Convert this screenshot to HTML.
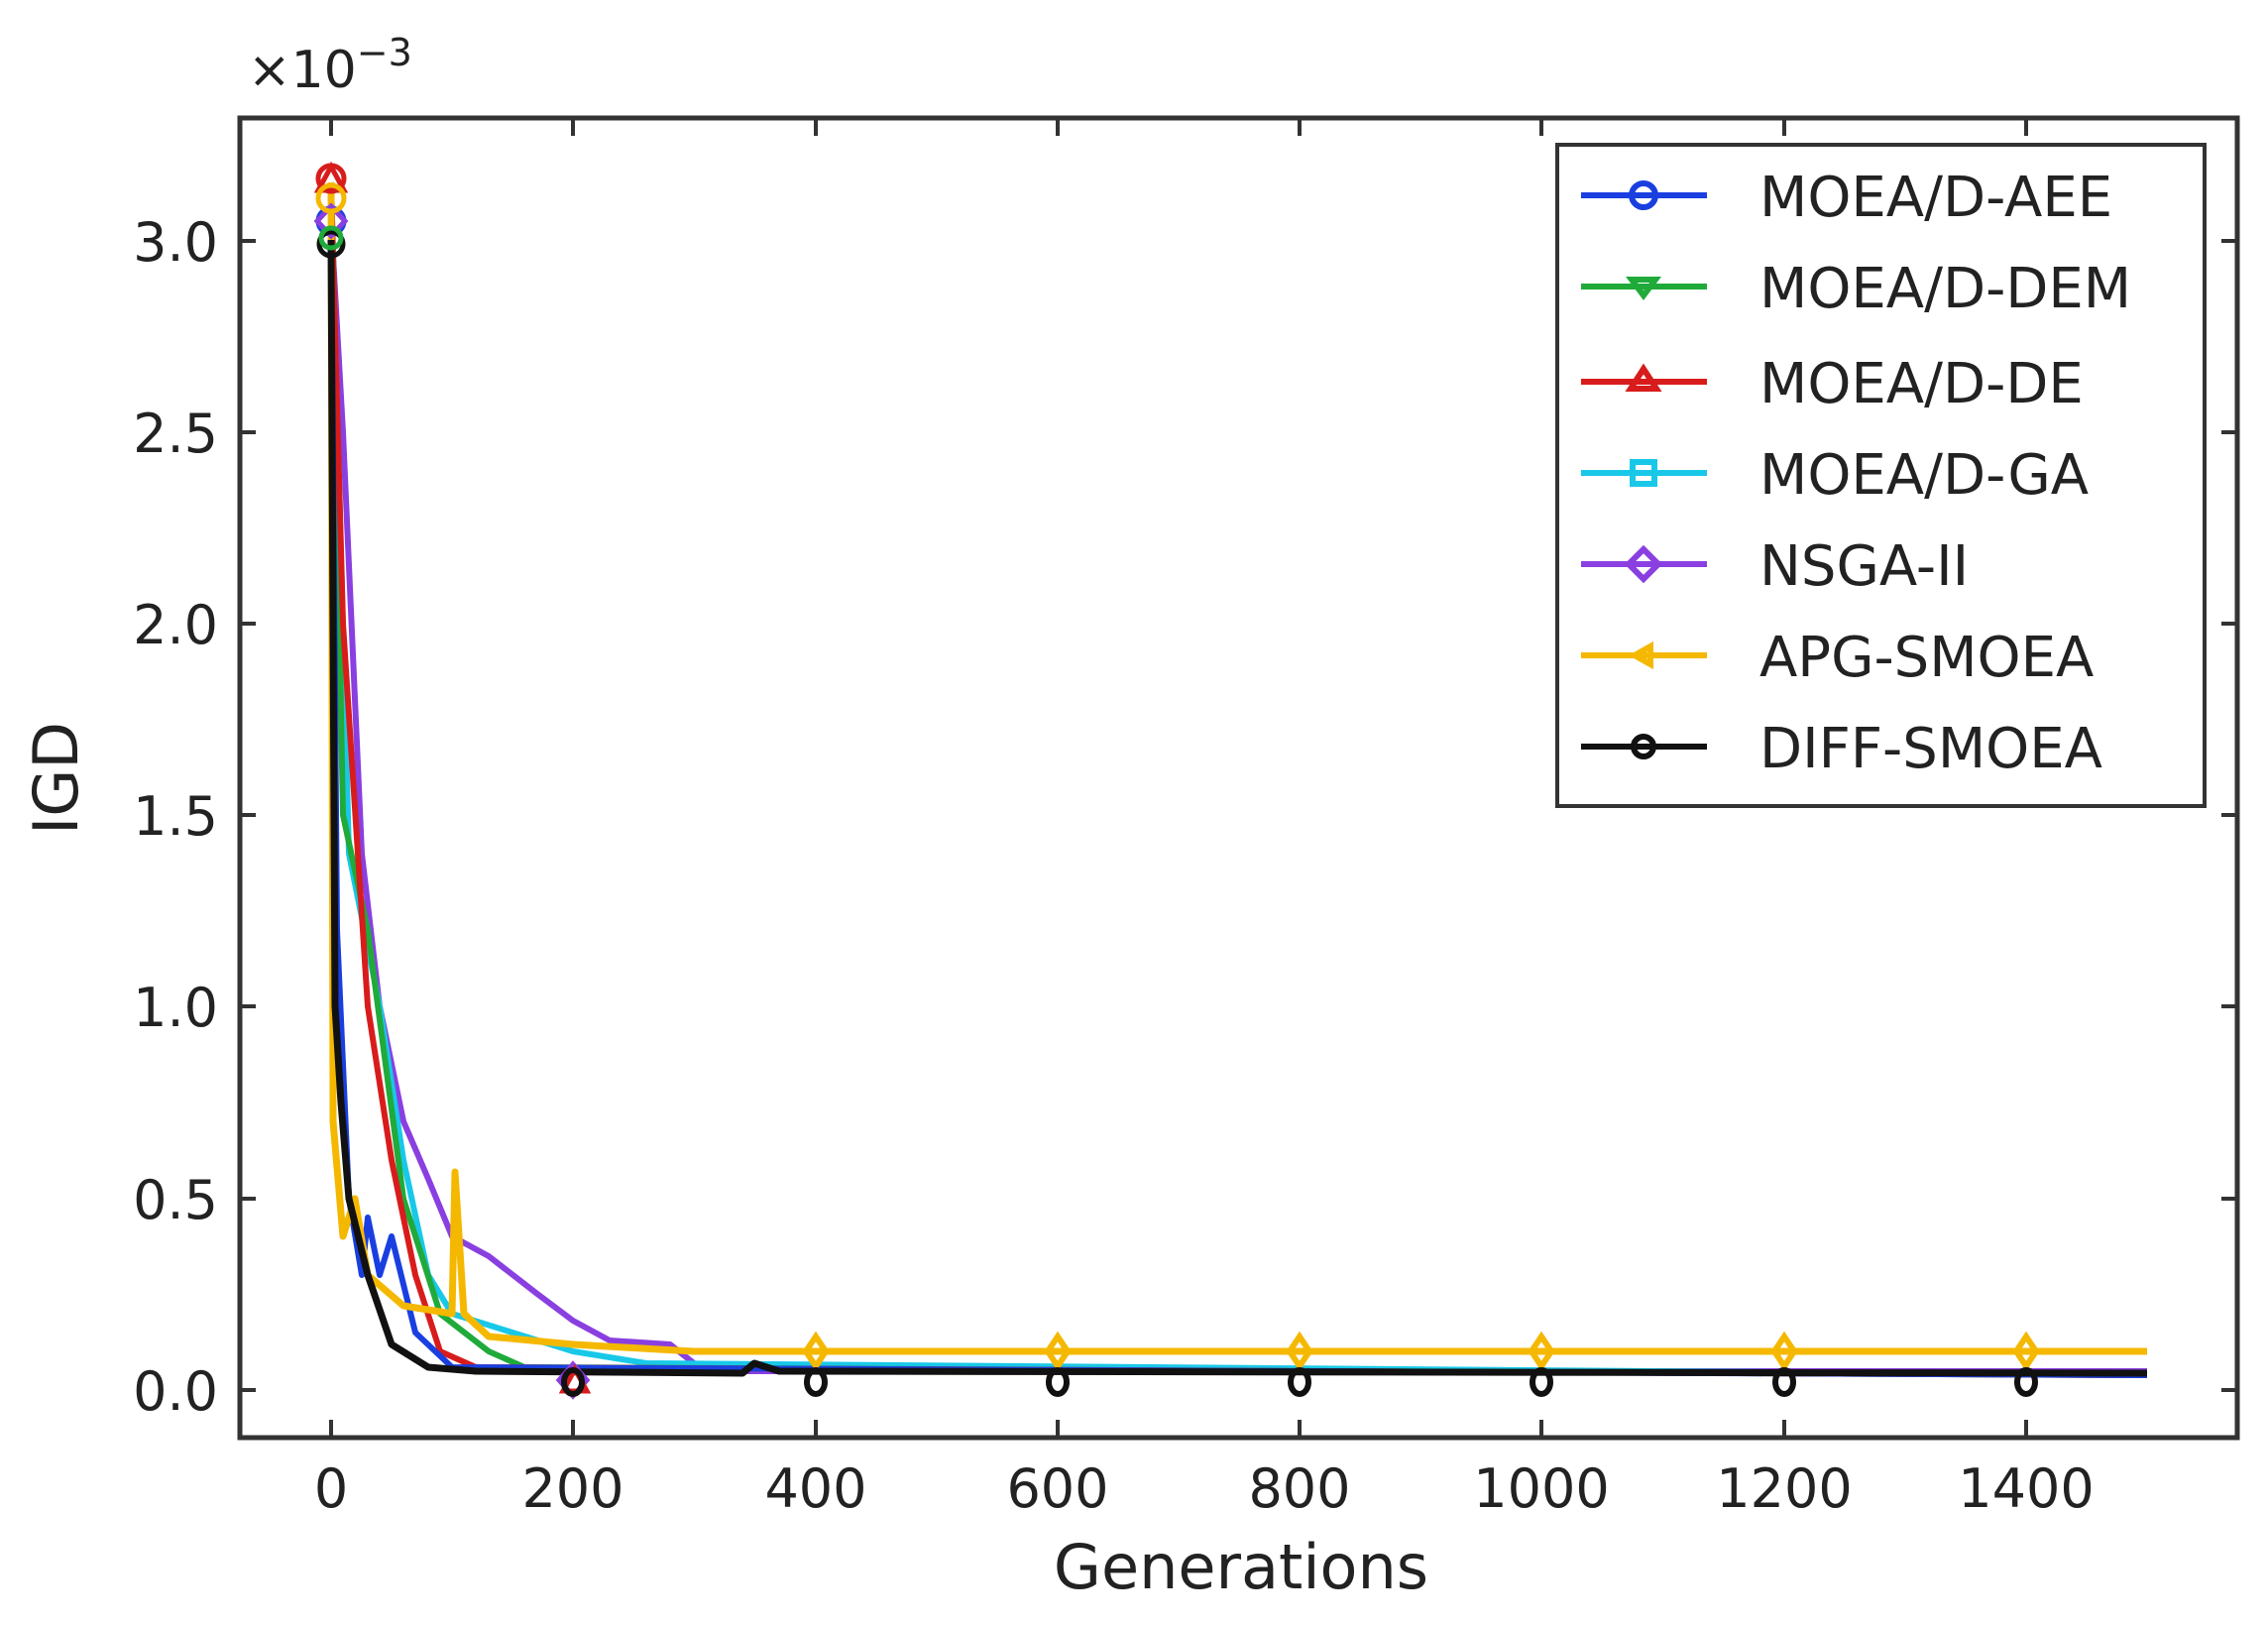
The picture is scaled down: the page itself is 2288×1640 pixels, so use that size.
<!DOCTYPE html>
<html><head><meta charset="utf-8"><style>
html,body{margin:0;padding:0;background:#fff;}
svg{display:block;font-family:"DejaVu Sans","Liberation Sans",sans-serif;}
</style></head><body>
<svg width="2288" height="1640" viewBox="0 0 2288 1640" xmlns="http://www.w3.org/2000/svg">
<rect width="2288" height="1640" fill="#fff"/>
<g fill="none" stroke-width="6" stroke-linejoin="round">
<polyline stroke="#8a3fe0" points="334,223 346,436 365,861 383,1015 407,1131 432,1189 456,1247 493,1267 542,1305 578,1332 615,1352 676,1356 700,1375 725,1383 2166,1383"/>
<polyline stroke="#19c8e8" points="334,184 352,861 383,1015 407,1170 432,1286 456,1325 517,1344 578,1363 652,1375 2166,1387"/>
<polyline stroke="#1faa3a" points="334,204 346,822 371,938 407,1209 444,1325 493,1363 529,1379 2166,1387"/>
<polyline stroke="#d81c1c" points="334,184 346,629 371,1015 395,1170 419,1286 444,1363 480,1379 2166,1387"/>
<polyline stroke="#1a3fe0" points="334,223 340,938 352,1209 365,1286 371,1228 383,1286 395,1247 419,1344 456,1379 2166,1387"/>
<polyline stroke="#f5b800" stroke-width="7" points="334,184 336,1131 346,1247 358,1209 371,1286 407,1317 456,1325 459,1182 468,1325 493,1348 578,1356 700,1363 2166,1363"/>
<polyline stroke="#111" stroke-width="7" points="334,242 338,1015 344,1112 352,1209 371,1286 395,1356 432,1379 480,1383 749,1385 761,1375 786,1383 2166,1385"/>
</g>
<g stroke-width="5" fill="none">
<circle cx="334" cy="223" r="13" stroke="#1a3fe0"/>
<path d="M334,208 L348,223 L334,238 L320,223Z" stroke="#8a3fe0"/>
<path d="M578,1376 L592,1392 L578,1408 L564,1392Z" stroke="#8a3fe0"/>
<path d="M334,168 L347,192 L321,192Z" stroke="#d81c1c"/>
<path d="M580,1381 L592,1403 L568,1403Z" stroke="#d81c1c"/>
<circle cx="334" cy="180" r="13" stroke="#d81c1c"/>
<circle cx="334" cy="200" r="13" stroke="#f5b800"/>
<circle cx="334" cy="246" r="12" stroke="#111"/>
<circle cx="334" cy="240" r="10" stroke="#1faa3a"/>
</g>
<g stroke-width="6" fill="none">
<g stroke="#f5b800">
<path d="M823,1348 L833,1363 L823,1378 L813,1363Z"/><path d="M1067,1348 L1077,1363 L1067,1378 L1057,1363Z"/><path d="M1311,1348 L1321,1363 L1311,1378 L1301,1363Z"/><path d="M1555,1348 L1565,1363 L1555,1378 L1545,1363Z"/><path d="M1800,1348 L1810,1363 L1800,1378 L1790,1363Z"/><path d="M2044,1348 L2054,1363 L2044,1378 L2034,1363Z"/>
</g>
<g stroke="#111">
<ellipse cx="578" cy="1394" rx="9" ry="12"/><ellipse cx="823" cy="1394" rx="9" ry="12"/><ellipse cx="1067" cy="1394" rx="9" ry="12"/><ellipse cx="1311" cy="1394" rx="9" ry="12"/><ellipse cx="1555" cy="1394" rx="9" ry="12"/><ellipse cx="1800" cy="1394" rx="9" ry="12"/><ellipse cx="2044" cy="1394" rx="9" ry="12"/>
</g>
</g>
<rect x="242" y="119" width="2015" height="1331" fill="none" stroke="#333" stroke-width="5"/>
<g stroke="#333" stroke-width="4">
<path d="M334,1450v-18M578,1450v-18M823,1450v-18M1067,1450v-18M1311,1450v-18M1555,1450v-18M1800,1450v-18M2044,1450v-18"/>
<path d="M334,119v18M578,119v18M823,119v18M1067,119v18M1311,119v18M1555,119v18M1800,119v18M2044,119v18"/>
<path d="M242,1402h16M242,1209h16M242,1015h16M242,822h16M242,629h16M242,436h16M242,243h16"/>
<path d="M2257,1402h-16M2257,1209h-16M2257,1015h-16M2257,822h-16M2257,629h-16M2257,436h-16M2257,243h-16"/>
</g>
<g font-size="54" fill="#222" text-anchor="end">
<text x="220" y="1422">0.0</text><text x="220" y="1229">0.5</text><text x="220" y="1035">1.0</text><text x="220" y="842">1.5</text><text x="220" y="649">2.0</text><text x="220" y="456">2.5</text><text x="220" y="263">3.0</text>
</g>
<g font-size="54" fill="#222" text-anchor="middle">
<text x="334" y="1520">0</text><text x="578" y="1520">200</text><text x="823" y="1520">400</text><text x="1067" y="1520">600</text><text x="1311" y="1520">800</text><text x="1555" y="1520">1000</text><text x="1800" y="1520">1200</text><text x="2044" y="1520">1400</text>
</g>
<text x="1252" y="1602" font-size="62" fill="#222" text-anchor="middle">Generations</text>
<text transform="translate(78,785) rotate(-90)" font-size="62" fill="#222" text-anchor="middle">IGD</text>
<text x="250" y="88" font-size="52" fill="#222">×10<tspan font-size="38" dy="-22">−3</tspan></text>
<rect x="1571" y="146" width="653" height="667" fill="#fff" stroke="#333" stroke-width="4"/>
<g stroke-width="6" fill="none">
<path d="M1595,197h127" stroke="#1a3fe0"/><circle cx="1658" cy="197" r="12" stroke="#1a3fe0"/>
<path d="M1595,289h127" stroke="#1faa3a"/><path d="M1646,282h24l-12,16z" stroke="#1faa3a"/>
<path d="M1595,385h127" stroke="#d81c1c"/><path d="M1658,372l13,20h-26z" stroke="#d81c1c"/>
<path d="M1595,477h127" stroke="#19c8e8"/><rect x="1647" y="466" width="22" height="22" stroke="#19c8e8"/>
<path d="M1595,569h127" stroke="#8a3fe0"/><path d="M1658,554l15,15l-15,15l-15,-15z" stroke="#8a3fe0"/>
<path d="M1595,661h127" stroke="#f5b800"/><path d="M1649,661l16,-9v18z" stroke="#f5b800"/>
<path d="M1595,753h127" stroke="#111"/><circle cx="1658" cy="753" r="10" stroke="#111"/>
</g>
<g font-size="56" fill="#222">
<text x="1775" y="218">MOEA/D-AEE</text>
<text x="1775" y="310">MOEA/D-DEM</text>
<text x="1775" y="406">MOEA/D-DE</text>
<text x="1775" y="498">MOEA/D-GA</text>
<text x="1775" y="590">NSGA-II</text>
<text x="1775" y="682">APG-SMOEA</text>
<text x="1775" y="774">DIFF-SMOEA</text>
</g>
</svg>
</body></html>
